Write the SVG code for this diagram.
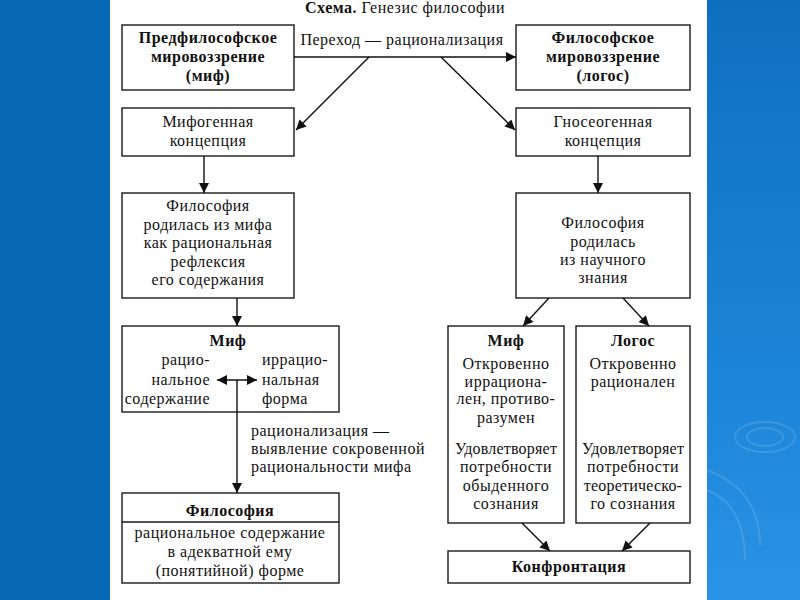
<svg xmlns="http://www.w3.org/2000/svg" width="800" height="600" viewBox="0 0 800 600">
  <defs>
    <linearGradient id="bgR" x1="0" y1="0" x2="0" y2="1">
      <stop offset="0" stop-color="#0f6fbf"/>
      <stop offset="0.6" stop-color="#1c84d6"/>
      <stop offset="1" stop-color="#2a93e6"/>
    </linearGradient>
    <marker id="ah" viewBox="0 0 10 10" refX="10" refY="5" markerWidth="11" markerHeight="10" markerUnits="userSpaceOnUse" orient="auto-start-reverse">
      <path d="M0,0 L10,5 L0,10 Z" fill="#111"/>
    </marker>
  </defs>
  <style>
    .box { fill: #fff; stroke: #1a1a1a; stroke-width: 1.4; }
    .t { font-family: "Liberation Serif", "DejaVu Serif", serif; font-size: 16px; fill: #111; letter-spacing: 0.5px; }
    .c { text-anchor: middle; }
    .b { font-weight: bold; }
    .con line { stroke: #111; stroke-width: 1.4; fill: none; }
    .ripple { fill: none; stroke: #ffffff; stroke-opacity: 0.12; stroke-width: 2; }
  </style>

  <!-- background -->
  <rect x="0" y="0" width="800" height="600" fill="#ffffff"/>
  <rect x="0" y="0" width="110" height="600" fill="#0868b3"/>
  <rect x="707" y="0" width="93" height="600" fill="url(#bgR)"/>
  <g class="ripple">
    <ellipse cx="765" cy="437" rx="18" ry="9"/>
    <ellipse cx="765" cy="437" rx="30" ry="15"/>
    <path d="M707,470 Q760,490 760,545"/>
    <path d="M707,490 Q745,505 745,560"/>
  </g>

  <!-- title -->
  <text class="t c" x="405" y="13"><tspan class="b">Схема.</tspan> Генезис философии</text>

  <g id="n-prephil">
    <rect class="box" x="122" y="25" width="172" height="65"/>
    <text class="t c b" x="208" y="43">Предфилософское</text>
    <text class="t c b" x="208" y="62">мировоззрение</text>
    <text class="t c b" x="208" y="81">(миф)</text>
  </g>

  <g id="n-phil-worldview">
    <rect class="box" x="516" y="25" width="174" height="65"/>
    <text class="t c b" x="603" y="43">Философское</text>
    <text class="t c b" x="603" y="62">мировоззрение</text>
    <text class="t c b" x="603" y="81">(логос)</text>
  </g>

  <g id="n-mythogenic">
    <rect class="box" x="122" y="108" width="172" height="48"/>
    <text class="t c" x="208" y="127">Мифогенная</text>
    <text class="t c" x="208" y="146">концепция</text>
  </g>

  <g id="n-gnoseogenic">
    <rect class="box" x="516" y="108" width="174" height="48"/>
    <text class="t c" x="603" y="127">Гносеогенная</text>
    <text class="t c" x="603" y="146">концепция</text>
  </g>

  <g id="n-born-myth">
    <rect class="box" x="122" y="193" width="172" height="105"/>
    <text class="t c" x="208" y="211">Философия</text>
    <text class="t c" x="208" y="230">родилась из мифа</text>
    <text class="t c" x="208" y="248">как рациональная</text>
    <text class="t c" x="208" y="267">рефлексия</text>
    <text class="t c" x="208" y="285">его содержания</text>
  </g>

  <g id="n-born-science">
    <rect class="box" x="516" y="193" width="174" height="105"/>
    <text class="t c" x="603" y="228">Философия</text>
    <text class="t c" x="603" y="247">родилась</text>
    <text class="t c" x="603" y="265">из научного</text>
    <text class="t c" x="603" y="283">знания</text>
  </g>

  <g id="n-myth-left">
    <rect class="box" x="122" y="326" width="217" height="86"/>
    <text class="t c b" x="228" y="346">Миф</text>
    <text class="t" x="210" y="365" text-anchor="end">рацио-</text>
    <text class="t" x="210" y="385" text-anchor="end">нальное</text>
    <text class="t" x="210" y="404" text-anchor="end">содержание</text>
    <text class="t" x="262" y="365">иррацио-</text>
    <text class="t" x="262" y="385">нальная</text>
    <text class="t" x="262" y="404">форма</text>
  </g>

  <g id="n-philosophy">
    <rect class="box" x="122" y="493" width="217" height="90"/>
    <line x1="122" y1="522" x2="339" y2="522" stroke="#1a1a1a" stroke-width="1.4"/>
    <text class="t c b" x="230" y="516">Философия</text>
    <text class="t c" x="230" y="538">рациональное содержание</text>
    <text class="t c" x="230" y="557">в адекватной ему</text>
    <text class="t c" x="230" y="576">(понятийной) форме</text>
  </g>

  <g id="n-myth-right">
    <rect class="box" x="448" y="326" width="116" height="197"/>
    <text class="t c b" x="506" y="346">Миф</text>
    <text class="t c" x="506" y="369">Откровенно</text>
    <text class="t c" x="506" y="387">иррациона-</text>
    <text class="t c" x="506" y="404">лен, противо-</text>
    <text class="t c" x="506" y="423">разумен</text>
    <text class="t c" x="506" y="454" style="letter-spacing:0.2px">Удовлетворяет</text>
    <text class="t c" x="506" y="472">потребности</text>
    <text class="t c" x="506" y="491">обыденного</text>
    <text class="t c" x="506" y="509">сознания</text>
  </g>

  <g id="n-logos">
    <rect class="box" x="576" y="326" width="114" height="197"/>
    <text class="t c b" x="633" y="346">Логос</text>
    <text class="t c" x="633" y="369">Откровенно</text>
    <text class="t c" x="633" y="387">рационален</text>
    <text class="t c" x="633" y="454" style="letter-spacing:0.2px">Удовлетворяет</text>
    <text class="t c" x="633" y="472">потребности</text>
    <text class="t c" x="633" y="491" style="letter-spacing:0.2px">теоретическо-</text>
    <text class="t c" x="633" y="509">го сознания</text>
  </g>

  <g id="n-confrontation">
    <rect class="box" x="448" y="551" width="242" height="32"/>
    <text class="t c b" x="569" y="572">Конфронтация</text>
  </g>

  <!-- connectors -->
  <g id="connectors" class="con">
    <line x1="294" y1="57" x2="516" y2="57" marker-end="url(#ah)"/>
    <line x1="369" y1="57" x2="296" y2="130" marker-end="url(#ah)"/>
    <line x1="441" y1="57" x2="515" y2="130" marker-end="url(#ah)"/>
    <line x1="204" y1="156" x2="204" y2="193" marker-end="url(#ah)"/>
    <line x1="598" y1="156" x2="598" y2="193" marker-end="url(#ah)"/>
    <line x1="237" y1="298" x2="237" y2="326" marker-end="url(#ah)"/>
    <line x1="549" y1="298" x2="523" y2="326" marker-end="url(#ah)"/>
    <line x1="623" y1="298" x2="649" y2="326" marker-end="url(#ah)"/>
    <line x1="217" y1="380" x2="257" y2="380" marker-start="url(#ah)" marker-end="url(#ah)"/>
    <line x1="237" y1="380" x2="237" y2="493" marker-end="url(#ah)"/>
    <line x1="522" y1="523" x2="550" y2="551" marker-end="url(#ah)"/>
    <line x1="650" y1="523" x2="622" y2="551" marker-end="url(#ah)"/>
    <text class="t c" x="402" y="45">Переход — рационализация</text>
    <text class="t" x="251" y="436">рационализация —</text>
    <text class="t" x="251" y="454">выявление сокровенной</text>
    <text class="t" x="251" y="472">рациональности мифа</text>
  </g>
</svg>
